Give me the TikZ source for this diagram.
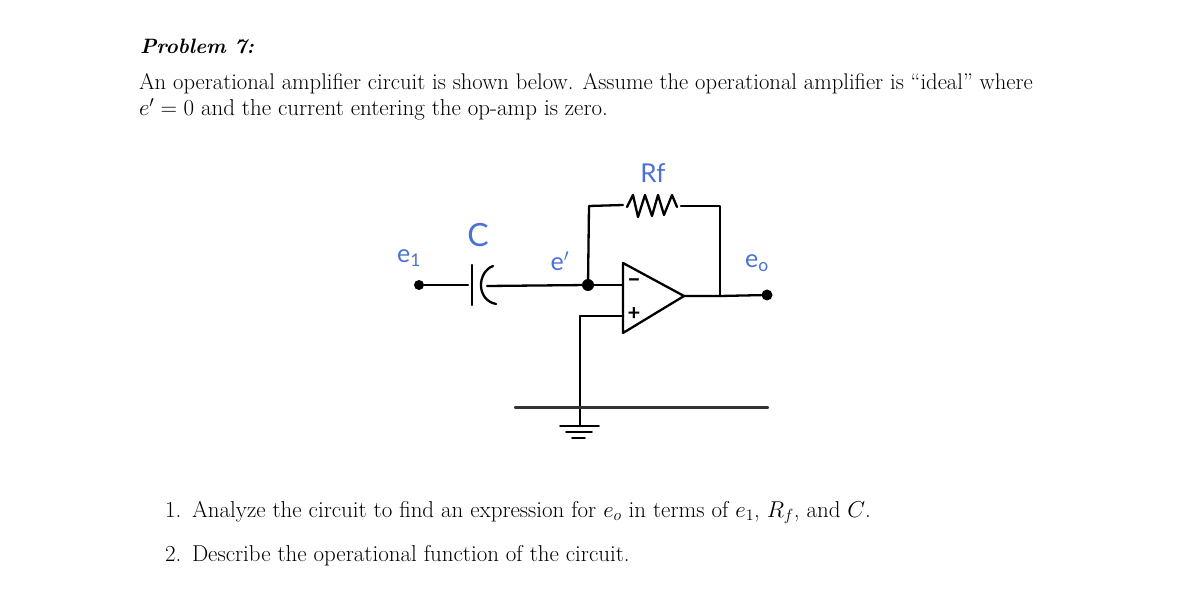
\RequirePackage{fix-cm}
\documentclass[tikz,border=0pt]{standalone}
\usepackage{fontspec}
\newfontfamily\handfont{Lato}
\definecolor{handblue}{HTML}{4A72D6}
\tikzset{
  wire/.style={line width=2.3pt,line cap=round,line join=round,draw=black},
  thinwire/.style={line width=1.9pt,line cap=round,line join=round,draw=black},
  body/.style={anchor=base west,inner sep=0pt,outer sep=0pt,font=\fontsize{22.95}{26}\selectfont,text=black},
  tight/.style={body,font=\fontsize{22.65}{26}\selectfont},
  head/.style={body,font=\fontsize{20.8}{25}\selectfont\bfseries\itshape},
  hand/.style={inner sep=0pt,text=handblue,font=\handfont\fontsize{25}{28}\selectfont},
  termdot/.style={circle,fill=black,inner sep=0pt,minimum size=9pt},
  sign/.style={inner sep=0pt,font=\handfont\fontsize{22}{22}\selectfont\bfseries}
}
\begin{document}
\begin{tikzpicture}[x=1pt,y=-1pt]
\useasboundingbox (0,0) rectangle (1179,601);
\fill[white] (0,0) rectangle (1179,601);
% text
\node[head] (title) at (140,54) {Problem 7:};
\node[tight] (l1) at (139,89.5) {An operational amplifier circuit is shown below. Assume the operational amplifier is ``ideal'' where};
\node[body] (l2) at (139,116) {$e'=0$ and the current entering the op-amp is zero.};
\node[body] (n1) at (165,517.5) {1.};
\node[body] (q1) at (192,517.5) {Analyze the circuit to find an expression for $e_o$ in terms of $e_1$, $R_f$, and $C$.};
\node[body] (n2) at (165,561.5) {2.};
\node[body] (q2) at (192,561.5) {Describe the operational function of the circuit.};
% coordinates
\node[termdot,minimum size=10pt] (in) at (419,285) {};
\coordinate (capL) at (468,285);
\coordinate (plateT) at (472,265);
\coordinate (plateB) at (472,305);
\coordinate (capR) at (487,286);
\node[termdot,minimum size=12pt] (junc) at (588,285) {};
\coordinate (minus) at (623,285);
\coordinate (plus) at (623,316);
\coordinate (triT) at (623,263);
\coordinate (triB) at (623,333);
\coordinate (triO) at (684,296);
\node[termdot,minimum size=11pt] (out) at (767,295) {};
\coordinate (fbL) at (589,206);
\coordinate (resL) at (623,205);
\coordinate (resR) at (681,206);
\coordinate (fbR) at (720,206);
\coordinate (tap) at (720,296);
\coordinate (gndTop) at (580,316);
\coordinate (gnd) at (580,426);
% op-amp
\draw[wire] (triT) -- (triO) -- (triB) -- cycle;
\node[sign] (sm) at (634,283) {\scalebox{1.7}[1]{-}};
\node[sign] (sp) at (634,314) {+};
% capacitor
\draw[wire] (in) -- (capL);
\draw[wire] (plateT) -- (plateB);
\draw[wire] (493,266) .. controls (477,272) and (476,300) .. (496,304);
\draw[wire] (capR) -- (junc);
\draw[wire] (junc) -- (minus);
% feedback
\draw[wire] (junc) -- (fbL) -- (resL);
\draw[wire] (627,207) -- (633,195) -- (638,217) -- (645,195) -- (652,216) -- (658,195) -- (664,215) -- (672,195) -- (677,207);
\draw[wire] (resR) -- (fbR) -- (tap);
\draw[wire] (triO) -- (tap) -- (out);
% non-inverting input and ground
\draw[wire] (plus) -- (gndTop) -- (gnd);
\draw[wire,draw=black!80] (515,407.5) -- (768,407.5);
\draw[thinwire] (560,426) -- (599,426);
\draw[thinwire] (566,432) -- (592,432);
\draw[thinwire] (572,438) -- (585,438);
% handwritten labels
\node[hand,font=\handfont\fontsize{26}{28}\selectfont] (lRf) at (653,173) {Rf};
\node[hand,font=\handfont\fontsize{32}{32}\selectfont] (lC) at (478,235) {C};
\node[hand] (le1) at (409,258) {e\textsubscript{1}};
\node[hand] (lep) at (560,261) {e$'$};
\node[hand] (leo) at (757,263) {e\textsubscript{o}};
\end{tikzpicture}
\end{document}
